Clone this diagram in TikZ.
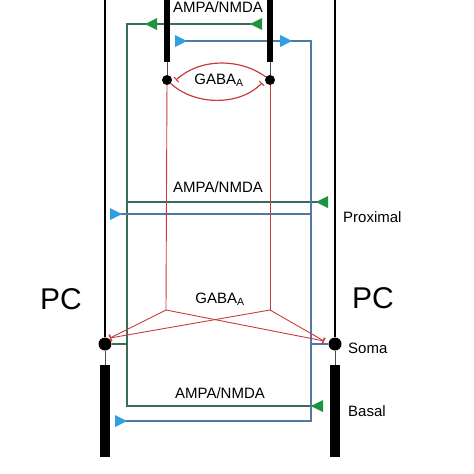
\documentclass[tikz,border=0pt]{standalone}
\usepackage{fontspec}
\setmainfont{Liberation Sans}
\usetikzlibrary{arrows.meta}
\definecolor{axgreen}{HTML}{3A6A58}
\definecolor{syngreen}{HTML}{1E9440}
\definecolor{axblue}{HTML}{5079A6}
\definecolor{synblue}{HTML}{2E9FE0}
\definecolor{inhred}{HTML}{C83C3C}
\begin{document}
\begin{tikzpicture}[x=1pt,y=-1pt,
		lbl/.style={font=\fontsize{15}{18}\selectfont, inner sep=0pt},
		big/.style={font=\fontsize{30}{36}\selectfont, inner sep=0pt},
		soma/.style={circle, fill=black, minimum size=13pt, inner sep=0pt},
		idot/.style={circle, fill=black, minimum size=10pt, inner sep=0pt},
		dend/.style={fill=black, inner sep=0pt, minimum width=10pt},
		greenax/.style={draw=axgreen, line width=1.2pt},
		blueax/.style={draw=axblue, line width=1.2pt},
		inh/.style={draw=inhred, line width=0.9pt, -{Bar[width=7pt,line width=1pt]}},
		synl/.pic={\fill (-6,0) -- (6,-6) -- (6,6) -- cycle;},
		synr/.pic={\fill (6,0) -- (-6,-6) -- (-6,6) -- cycle;}]
		\useasboundingbox (0,0) rectangle (474,474);
		
		% Somata, dots and dendrites
		\node[soma] (lsoma) at (105,344) {};
		\node[soma] (rsoma) at (335,344) {};
		\node[idot] (ldot) at (167,80) {};
		\node[idot] (rdot) at (270,80) {};
		\coordinate (lpctop) at (105,-5);
		\coordinate (rpctop) at (335,-5);
		
		% Green axon of the left PC
		\coordinate (gsoma) at (127,344);
		\coordinate (gtop) at (127,24);
		\coordinate (gtopend) at (262,24);
		\coordinate (gmid) at (127,202);
		\coordinate (gmidend) at (328,202);
		\coordinate (gbot) at (127,406);
		\coordinate (gbotend) at (323,406);
		\draw[greenax] (lsoma) -- (gsoma);
		\draw[greenax] (gtopend) -- (gtop) -- (gbot) -- (gbotend);
		\draw[greenax] (gmid) -- (gmidend);
		
		% Blue axon of the right PC
		\coordinate (bsoma) at (311,344);
		\coordinate (btop) at (311,41);
		\coordinate (btopend) at (175,41);
		\coordinate (bmid) at (311,214);
		\coordinate (bmidend) at (110,214);
		\coordinate (bbot) at (311,421);
		\coordinate (bbotend) at (115,421);
		\draw[blueax] (rsoma) -- (bsoma);
		\draw[blueax] (btopend) -- (btop) -- (bbot) -- (bbotend);
		\draw[blueax] (bmid) -- (bmidend);
		
		% Synapses
		\foreach \px/\py in {151/24, 256/24, 322/202, 317/406}
			\pic[color=syngreen] at (\px,\py) {synl};
		\foreach \px/\py in {181/41, 286/41, 116/214, 121/421}
			\pic[color=synblue] at (\px,\py) {synr};
		
		% Inhibitory connections
		\coordinate (lbr) at (166,310);
		\coordinate (rbr) at (270,310);
		\coordinate (ltip) at (110,338);
		\coordinate (rtip) at (324,341);
		\draw[draw=inhred, line width=0.9pt] (ldot) -- (lbr);
		\draw[draw=inhred, line width=0.9pt] (rdot) -- (rbr);
		\draw[inh] (lbr) -- (ltip);
		\draw[inh] (rbr) -- (ltip);
		\draw[inh] (lbr) -- (rtip);
		\draw[inh] (rbr) -- (rtip);
		\draw[inh, line width=1.2pt] (rdot) .. controls (240,58) and (200,58) .. (176,80);
		\draw[inh, line width=1.2pt] (ldot) .. controls (195,106) and (240,106) .. (262,83);
		
		% Pyramidal cells and interneurons
		\node[dend, minimum height=92pt] (lbasal) at (105,411) {};
		\node[dend, minimum height=92pt] (rbasal) at (335,411) {};
		\node[dend, minimum width=5.5pt, minimum height=72pt] (lint) at (167,26) {};
		\node[dend, minimum width=5.5pt, minimum height=72pt] (rint) at (270,26) {};
		\draw[line width=1.4pt] (lpctop) -- (lsoma);
		\draw[line width=1.4pt] (rpctop) -- (rsoma);
		\draw[line width=0.8pt, black!70] (lsoma) -- (lbasal);
		\draw[line width=0.8pt, black!70] (rsoma) -- (rbasal);
		\draw[line width=0.8pt, black!70] (lint) -- (ldot);
		\draw[line width=0.8pt, black!70] (rint) -- (rdot);
		
		% Labels
		\node[lbl] (ampatop) at (218,7) {AMPA/NMDA};
		\node[lbl] (ampamid) at (218,187) {AMPA/NMDA};
		\node[lbl] (ampabot) at (220,393) {AMPA/NMDA};
		\node[lbl] (gabatop) at (219,80) {GABA\textsubscript{A}};
		\node[lbl] (gabamid) at (220,299) {GABA\textsubscript{A}};
		\node[lbl, anchor=west] (proximal) at (343,217) {Proximal};
		\node[lbl, anchor=west] (somalbl) at (348,348) {Soma};
		\node[lbl, anchor=west] (basal) at (348,411) {Basal};
		\node[big] (lpc) at (61,299) {PC};
		\node[big] (rpc) at (373,298) {PC};
\end{tikzpicture}
\end{document}
